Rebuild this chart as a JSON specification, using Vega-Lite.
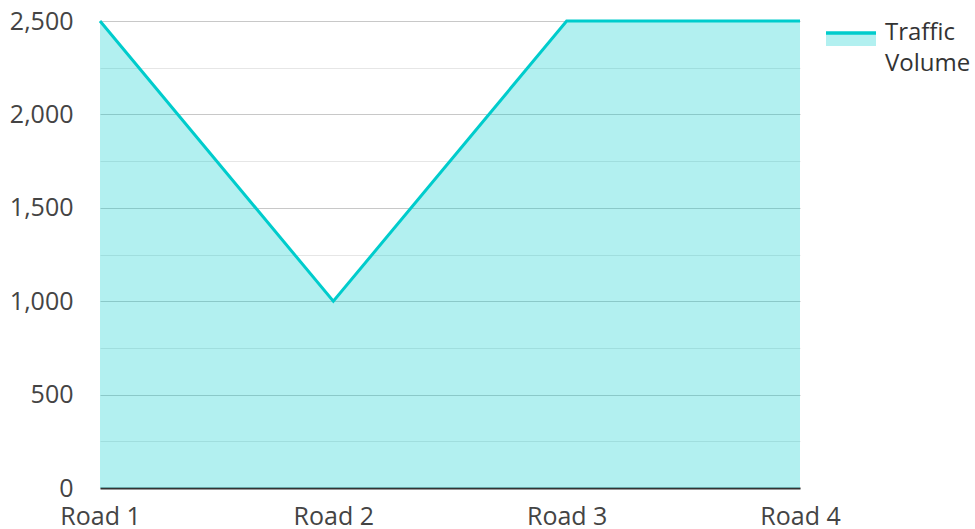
{
  "$schema": "https://vega.github.io/schema/vega-lite/v6.json",
  "width": 700,
  "height": 467,
  "autosize": "none",
  "padding": {"left": 100, "top": 21, "right": 175, "bottom": 41},
  "background": "white",
  "config": {
    "font": "Open Sans",
    "view": {"stroke": null},
    "style": {"guide-label": {"lineHeight": 31}}
  },
  "data": {
    "values": [
      {"road": "Road 1", "volume": 2500, "series": "Traffic Volume"},
      {"road": "Road 2", "volume": 1000, "series": "Traffic Volume"},
      {"road": "Road 3", "volume": 2500, "series": "Traffic Volume"},
      {"road": "Road 4", "volume": 2500, "series": "Traffic Volume"}
    ]
  },
  "encoding": {
    "x": {
      "field": "road",
      "type": "ordinal",
      "scale": {"type": "point", "padding": 0},
      "axis": {
        "title": null,
        "labelAngle": 0,
        "labelFontSize": 25,
        "labelColor": "#444",
        "labelPadding": 16,
        "ticks": false,
        "grid": false,
        "domainColor": "#333",
        "domainWidth": 2
      }
    },
    "y": {
      "field": "volume",
      "type": "quantitative",
      "scale": {"domain": [0, 2500], "nice": false},
      "axis": {
        "title": null,
        "values": [0, 250, 500, 750, 1000, 1250, 1500, 1750, 2000, 2250, 2500],
        "labelExpr": "datum.value % 500 === 0 ? datum.label : ''",
        "labelFontSize": 25,
        "labelColor": "#444",
        "labelPadding": 27,
        "ticks": false,
        "domain": false,
        "grid": true,
        "gridColor": {"condition": {"test": "datum.value % 500 === 0", "value": "#c8c8c8"}, "value": "#e6e6e6"},
        "gridWidth": 1
      }
    }
  },
  "layer": [
    {
      "mark": {"type": "area", "fillOpacity": 1},
      "encoding": {
        "fill": {
          "field": "series",
          "type": "nominal",
          "scale": {"range": ["rgba(0,204,204,0.3)"]},
          "legend": null
        }
      }
    },
    {
      "mark": {"type": "line", "strokeWidth": 3},
      "encoding": {
        "stroke": {
          "field": "series",
          "type": "nominal",
          "scale": {"range": ["#00cccc"]},
          "legend": {
            "title": null,
            "orient": "none",
            "legendX": 724,
            "legendY": -15,
            "padding": 0,
            "symbolType": "M-1,0H1V0.52H-1Z",
            "symbolSize": 2500,
            "symbolFillColor": "rgba(0,204,204,0.3)",
            "symbolStrokeWidth": 3.5,
            "symbolDash": [50, 1000],
            "labelExpr": "['Traffic', 'Volume']",
            "labelFontSize": 24,
            "labelColor": "#333",
            "labelBaseline": "middle",
            "labelOffset": 7,
            "labelLimit": 200
          }
        }
      }
    }
  ]
}
